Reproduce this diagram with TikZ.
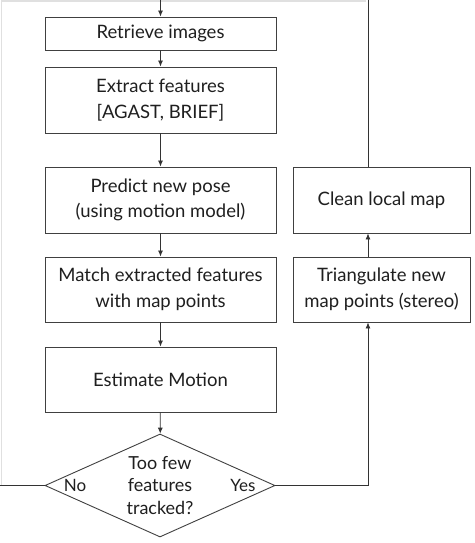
\documentclass[tikz,border=0pt]{standalone}
\usepackage{fontspec}
\setmainfont{Lato}
\usetikzlibrary{shapes.geometric,arrows.meta,shadows}
\begin{document}
\begin{tikzpicture}[x=1pt,y=-1pt,
  line width=0.9pt,
  every node/.style={font=\fontsize{18.5}{25.5}\selectfont, text=black!88, align=center},
  proc/.style={draw=black!75, fill=white, inner sep=0pt,
    drop shadow={shadow xshift=1.2pt, shadow yshift=-1.2pt, opacity=0.35}},
  dec/.style={draw=black!75, fill=white, diamond, inner sep=0pt,
    minimum width=230pt, minimum height=103pt, aspect=2.23},
  conn/.style={draw=black!80, line width=0.8pt},
  faint/.style={draw=black!12, line width=1.6pt},
  arr/.style={conn, -{Latex[length=6pt,width=5pt]}},
  lbl/.style={font=\fontsize{17}{20}\selectfont}]
\useasboundingbox (0,0) rectangle (474,543);
\fill[white] (0,0) rectangle (474,543);
\node[proc, minimum width=231pt, minimum height=33pt] (ret) at (160.5,33.5) {Retrieve images};
\node[proc, minimum width=231pt, minimum height=66pt] (ext) at (160.5,100) {Extract features\\{[AGAST, BRIEF]}};
\node[proc, minimum width=231pt, minimum height=66pt] (pred) at (160.5,200) {Predict new pose\\(using motion model)};
\node[proc, minimum width=231pt, minimum height=65pt] (match) at (160.5,289.5) {Match extracted features\\with map points};
\node[proc, minimum width=231pt, minimum height=65pt] (est) at (160.5,379.5) {Estimate Motion};
\node[dec] (dia) at (160,485.5) {};
\node[font=\fontsize{18}{22.5}\selectfont] (diatxt) at (160,485.5) {Too few\\features\\tracked?};
\node[lbl] (no) at (75,485) {No};
\node[lbl] (yes) at (243,485) {Yes};
\node[proc, minimum width=177pt, minimum height=66pt] (clean) at (381.5,200) {Clean local map};
\node[proc, minimum width=177pt, minimum height=65pt] (tri) at (381.5,289.5) {Triangulate new\\map points (stereo)};
\coordinate (tl) at (1.5,0.8);
\coordinate (tm) at (160.5,0);
\coordinate (tr) at (368,0);
\coordinate (trf) at (366,0.8);
\coordinate (bl) at (1.5,485.5);
\coordinate (bl0) at (0,485.5);
\coordinate (br) at (368,485.5);
\draw[faint] (trf) -- (tl) -- (bl);
\draw[arr] (ret) -- (ext);
\draw[arr] (ext) -- (pred);
\draw[arr] (pred) -- (match);
\draw[arr] (match) -- (est);
\draw[arr] (est) -- (dia);
\draw[arr] (dia.east) -- (br) -- (tri.south -| br);
\draw[arr] (tri.north -| br) -- (clean.south -| br);
\draw[conn] (clean.north -| br) -- (tr);
\draw[conn] (bl0) -- (dia.west);
\draw[arr] (tm) -- (ret);
\end{tikzpicture}
\end{document}
